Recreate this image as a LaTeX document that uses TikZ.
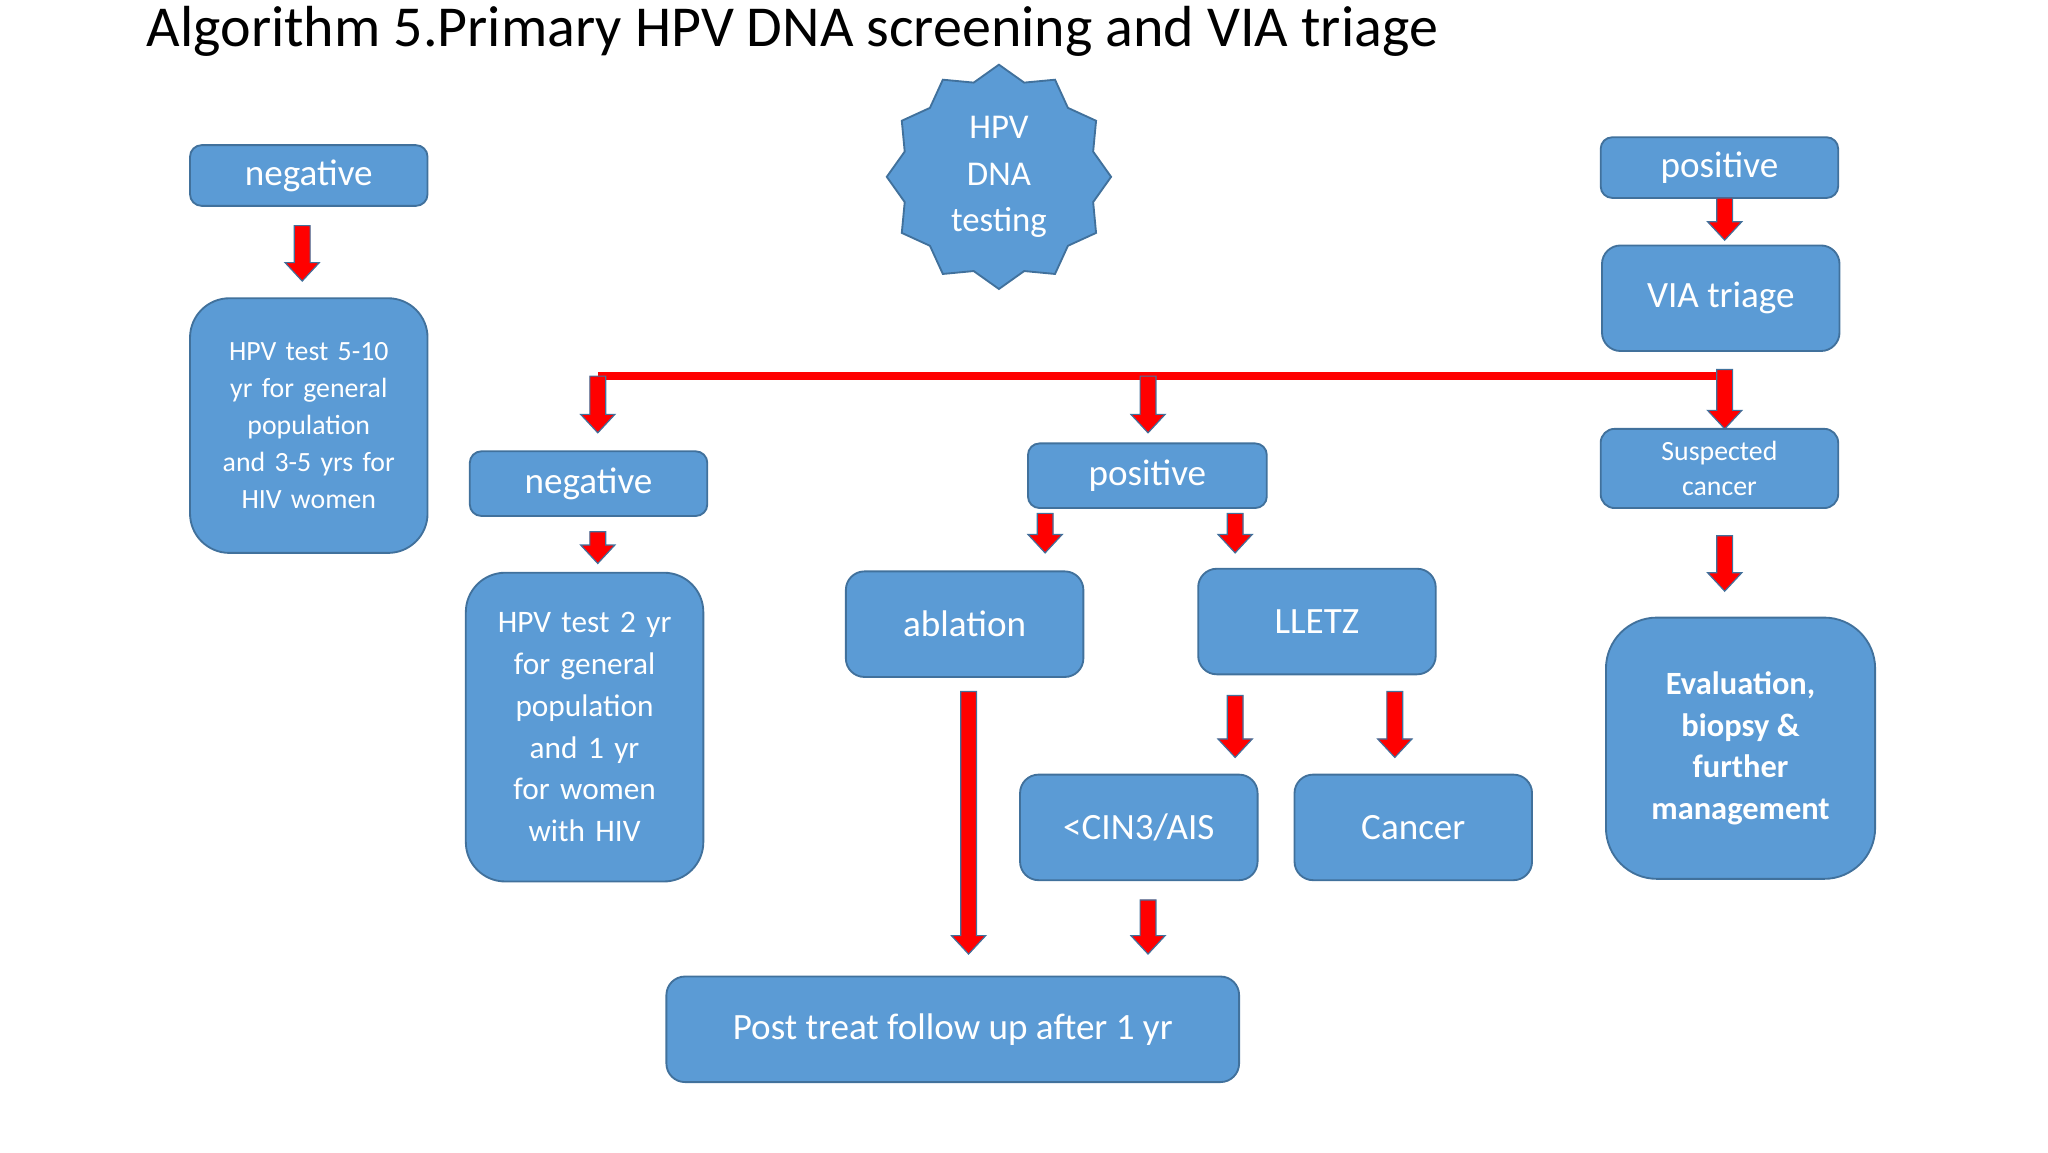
\documentclass[tikz,border=0pt]{standalone}
\usepackage{fontspec}
\setmainfont{Carlito}
\usetikzlibrary{shapes.geometric}
\definecolor{boxblue}{HTML}{5B9BD5}
\definecolor{boxline}{HTML}{41719C}
\begin{document}
\begin{tikzpicture}[x=0.02cm,y=-0.02cm,
    box/.style={draw=boxline, line width=0.8pt, fill=boxblue, text=white, align=center, inner sep=2pt},
    barrow/.style={draw=boxline, line width=0.5pt, fill=red}
  ]
  \useasboundingbox (0,0) rectangle (1552,873);
  % block arrow: x, top y, bottom y
  \newcommand{\blk}[3]{\fill[red] (#1-6,#2) -- (#1+6,#2) -- (#1+6,#3-14) -- (#1+13,#3-14) -- (#1,#3) -- (#1-13,#3-14) -- (#1-6,#3-14) -- cycle;
    \draw[barrow] (#1-6,#2) -- (#1+6,#2) -- (#1+6,#3-14) -- (#1+13,#3-14) -- (#1,#3) -- (#1-13,#3-14) -- (#1-6,#3-14) -- cycle;}

  \node[anchor=west, font=\fontsize{25}{30}\selectfont] (title) at (105,24) {Algorithm 5.Primary HPV DNA screening and VIA triage};

  % boxes
  \node[box, rounded corners=5pt, minimum width=180*0.02cm, minimum height=46*0.02cm, font=\fontsize{16}{19}\selectfont] (neg1) at (234,133) {negative};
  \node[box, rounded corners=17pt, minimum width=180*0.02cm, minimum height=193*0.02cm, text width=150*0.02cm, font=\fontsize{12}{16}\selectfont] (hpv510) at (234,322.5) {HPV test 5-10 yr for general population and 3-5 yrs for HIV women};
  \node[box, star, star points=12, star point ratio=1.15, minimum size=170*0.02cm, inner sep=0pt, font=\fontsize{15}{20}\selectfont] (dna) at (757,134) {HPV\\DNA\\testing};
  \node[box, rounded corners=5pt, minimum width=180*0.02cm, minimum height=46*0.02cm, font=\fontsize{16}{19}\selectfont] (pos1) at (1303,127) {positive};
  \node[box, rounded corners=8pt, minimum width=180*0.02cm, minimum height=80*0.02cm, font=\fontsize{16}{19}\selectfont] (via) at (1304,226) {VIA triage};
  \node[box, rounded corners=6pt, minimum width=180*0.02cm, minimum height=60*0.02cm, font=\fontsize{12}{15}\selectfont] (susp) at (1303,355) {Suspected\\cancer};
  \node[box, rounded corners=22pt, minimum width=204*0.02cm, minimum height=198*0.02cm, font=\bfseries\fontsize{14}{18}\selectfont] (eval) at (1319,567) {Evaluation,\\biopsy \&\\further\\management};
  \node[box, rounded corners=5pt, minimum width=180*0.02cm, minimum height=49*0.02cm, font=\fontsize{16}{19}\selectfont] (neg2) at (446,366.5) {negative};
  \node[box, rounded corners=17pt, minimum width=180*0.02cm, minimum height=234*0.02cm, text width=150*0.02cm, font=\fontsize{13.5}{18}\selectfont] (hpv2) at (443,551) {HPV test 2 yr for general population and 1 yr for women with HIV};
  \node[box, rounded corners=5pt, minimum width=181*0.02cm, minimum height=49*0.02cm, font=\fontsize{16}{19}\selectfont] (pos2) at (869.5,360.5) {positive};
  \node[box, rounded corners=8pt, minimum width=180*0.02cm, minimum height=80*0.02cm, font=\fontsize{16}{19}\selectfont] (abl) at (731,473) {ablation};
  \node[box, rounded corners=8pt, minimum width=180*0.02cm, minimum height=80*0.02cm, font=\fontsize{16}{19}\selectfont] (lletz) at (998,471) {LLETZ};
  \node[box, rounded corners=8pt, minimum width=180*0.02cm, minimum height=80*0.02cm, font=\fontsize{16}{19}\selectfont] (cin) at (863,627) {<CIN3/AIS};
  \node[box, rounded corners=8pt, minimum width=180*0.02cm, minimum height=80*0.02cm, font=\fontsize{16}{19}\selectfont] (canc) at (1071,627) {Cancer};
  \node[box, rounded corners=8pt, minimum width=434*0.02cm, minimum height=80*0.02cm, font=\fontsize{16}{19}\selectfont] (post) at (722,780) {Post treat follow up after 1 yr};

  % red branch line
  \draw[red, line width=3.4pt] (453,285) -- (1310,285);

  % block arrows
  \blk{229}{171}{213}
  \blk{1307}{150}{182}
  \blk{453}{285}{328}
  \blk{870}{285}{328}
  \blk{1307}{280}{325}
  \blk{453}{403}{427}
  \blk{792}{389}{419}
  \blk{936}{389}{419}
  \blk{1307}{406}{448}
  \blk{734}{524}{723}
  \blk{936}{527}{574}
  \blk{1057}{524}{574}
  \blk{870}{682}{723}
\end{tikzpicture}
\end{document}
